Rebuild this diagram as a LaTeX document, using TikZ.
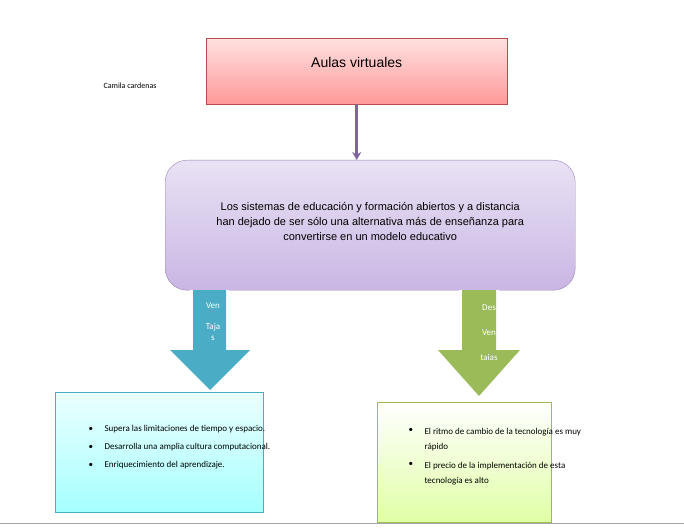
\documentclass[tikz,border=0pt]{standalone}
\usepackage{fontspec}
\usetikzlibrary{arrows.meta}
\setmainfont{Liberation Sans}
\newfontfamily\calfont{Carlito}
\definecolor{tealA}{HTML}{4BACC6}
\definecolor{greenA}{HTML}{9BBB59}
\definecolor{purpA}{HTML}{8064A2}
\definecolor{lilac}{HTML}{C9B6E4}
\begin{document}
\begin{tikzpicture}[x=1pt,y=-1pt,
  bx/.style={draw, inner sep=0pt, anchor=north west},
  bl/.style={font=\calfont\fontsize{9}{11}\selectfont, anchor=west}]
\useasboundingbox (0,0) rectangle (684,529);
\fill[white] (0,0) rectangle (684,529);
\draw[gray!70, line width=1pt] (0,523) -- (684,523);
% title
\node[bx, draw=red!60!black!70, top color=red!12, bottom color=red!40, minimum width=301pt, minimum height=66pt] (title) at (206,38) {};
\node[font=\fontsize{14}{16}\selectfont] at ([yshift=9pt]title.center) {Aulas virtuales};
\node[font=\calfont\fontsize{8}{10}\selectfont] (name) at (130,86) {Camila cardenas};
% main
\node[bx, draw=purpA!80, rounded corners=22pt, top color=lilac!40, bottom color=lilac, minimum width=410pt, minimum height=130pt] (main) at (165,160) {};
\node[align=center, font=\fontsize{11}{15}\selectfont] at ([yshift=4pt]main.center) {Los sistemas de educación y formación abiertos y a distancia\\han dejado de ser sólo una alternativa más de enseñanza para\\convertirse en un modelo educativo};
\draw[purpA, line width=2.5pt, -{Stealth[length=8pt,width=9pt]}] (title.south) -- (main.north -| title.south);
% arrows
\fill[white] (190,290) -- (229,290) -- (229,347) -- (256,347) -- (210,394) -- (164,347) -- (190,347) -- cycle;
\fill[tealA] (193,290) -- (226,290) -- (226,350) -- (250,350) -- (210,390) -- (170,350) -- (193,350) -- cycle;
\fill[white] (459,290) -- (499,290) -- (499,347) -- (526,347) -- (479,400) -- (432,347) -- (459,347) -- cycle;
\fill[greenA] (462,290) -- (496,290) -- (496,350) -- (520,350) -- (479,396) -- (438,350) -- (462,350) -- cycle;
\node[white, font=\calfont\fontsize{9}{11}\selectfont, align=center] (vt) at (213,322) {Ven\\[10pt]Taja\\s};
\node[white, font=\calfont\fontsize{9}{11}\selectfont, align=center] (dv) at (489,333) {Des\\[14pt]Ven\\[14pt]taias};
% boxes
\node[bx, draw=tealA, top color=cyan!8, bottom color=cyan!35, minimum width=208pt, minimum height=120pt] (vbox) at (55,392) {};
\node[bx, draw=greenA, top color=white, bottom color=green!35!yellow!35, minimum width=174pt, minimum height=120pt] (dbox) at (377,402) {};
\foreach \y/\t in {429/{Supera las limitaciones de tiempo y espacio.},447/{Desarrolla una amplia cultura computacional.},465/{ Enriquecimiento del aprendizaje.}}{
  \node[bl] at (85,\y) {•};
  \node[bl] at (101,\y) {\t};}
\node[bl] at (405,430) {•};
\node[bl, align=left] at (421,440) {El ritmo de cambio de la tecnología es muy\\[4pt]rápido};
\node[bl] at (405,464) {•};
\node[bl, align=left] at (421,474) {El precio de la implementación de esta\\[4pt]tecnología es alto};
\end{tikzpicture}
\end{document}
